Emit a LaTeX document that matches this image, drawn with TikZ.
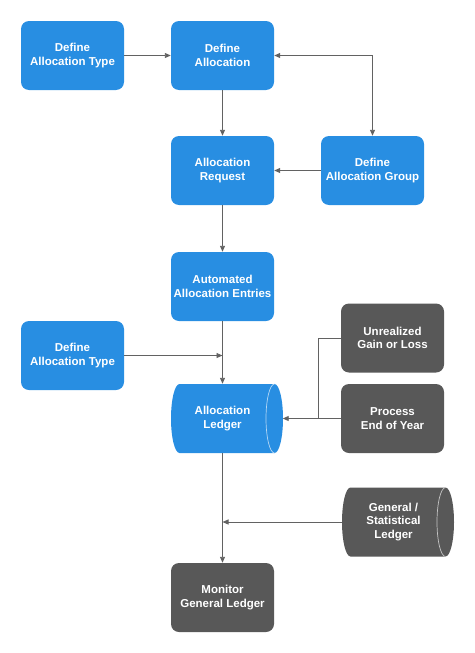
\documentclass[tikz,border=0pt]{standalone}
\usepackage{fontspec}
\setmainfont{Liberation Sans}
\usetikzlibrary{arrows.meta}
\definecolor{boxblue}{RGB}{40,142,226}
\definecolor{boxgray}{RGB}{88,88,88}
\definecolor{linegray}{RGB}{98,98,98}
\tikzset{
  stepbox/.style={rounded corners=8pt, fill=#1, text=white, align=center,
    font=\bfseries\fontsize{11.5}{13.5}\selectfont,
    minimum width=103pt, minimum height=69pt, inner sep=0pt},
  stepbox/.default=boxblue,
  ledgertext/.style={text=white, align=center,
    font=\bfseries\fontsize{11.5}{13.5}\selectfont,
    minimum width=103pt, minimum height=69pt, inner sep=0pt},
  plain/.style={draw=linegray, line width=.9pt},
  flow/.style={plain, -{Triangle[length=6pt,width=5pt]}},
  twoway/.style={plain, {Triangle[length=6pt,width=5pt]}-{Triangle[length=6pt,width=5pt]}}
}
% name, x, y, colour, text
\newcommand{\ledger}[5]{
  \fill[#4] (#2-43,#3+34.5) arc[start angle=90,end angle=270,x radius=8.5pt,y radius=34.5pt]
    -- (#2+52,#3-34.5) arc[start angle=-90,end angle=90,x radius=8.5pt,y radius=34.5pt] -- cycle;
  \draw[#4!35!white, line width=.7pt] (#2+52,#3+34.5) arc[start angle=90,end angle=270,x radius=8.5pt,y radius=34.5pt];
  \node[ledgertext] (#1) at (#2,#3) {#5};
}

\begin{document}
\begin{tikzpicture}[x=1pt,y=1pt]
\useasboundingbox (0,0) rectangle (474,-653);
% blue steps
\node[stepbox] (deftype) at (72.5,-55.5) {Define\\Allocation Type};
\node[stepbox] (defalloc) at (222.5,-55.5) {Define\\Allocation};
\node[stepbox] (allocreq) at (222.5,-170.5) {Allocation\\Request};
\node[stepbox] (defgroup) at (372.5,-170.5) {Define\\Allocation Group};
\node[stepbox] (autoentries) at (222.5,-286.5) {Automated\\Allocation Entries};
\node[stepbox] (deftypeb) at (72.5,-355.5) {Define\\Allocation Type};
\ledger{allocledger}{222.5}{-418.5}{boxblue}{Allocation\\Ledger}
% gray steps
\node[stepbox=boxgray] (unrealized) at (392.5,-338) {Unrealized\\Gain or Loss};
\node[stepbox=boxgray] (endyear) at (392.5,-418.5) {Process\\End of Year};
\ledger{glledger}{393.5}{-522}{boxgray}{General /\\Statistical\\Ledger}
\node[stepbox=boxgray] (monitor) at (222.5,-597.5) {Monitor\\General Ledger};
\coordinate (joint) at (318,-418.5);
% connectors
\draw[flow] (deftype) -- (defalloc);
\draw[twoway] (defalloc) -| (defgroup);
\draw[flow] (defalloc) -- (allocreq);
\draw[flow] (defgroup) -- (allocreq);
\draw[flow] (allocreq) -- (autoentries);
\draw[flow] (autoentries) -- (allocledger);
\draw[flow] (deftypeb) -- (deftypeb -| autoentries);
\draw[plain] (unrealized.west) -| (joint);
\draw[flow] (endyear) -- ([xshift=8.5pt]allocledger.east);
\draw[flow] (allocledger) -- (monitor);
\draw[flow] (glledger) -- (glledger -| monitor);
\end{tikzpicture}
\end{document}
